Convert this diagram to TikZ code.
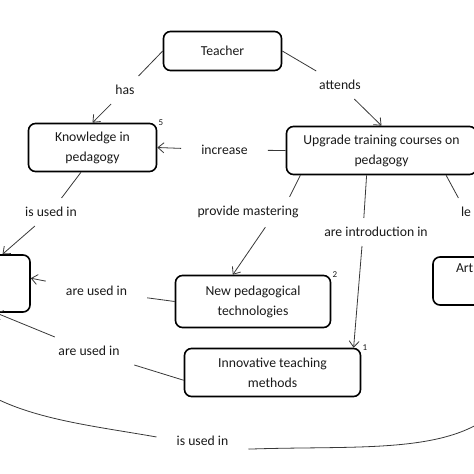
\documentclass[tikz,border=0pt]{standalone}
\usepackage{fontspec}
\setmainfont{Carlito}
\definecolor{line_c}{rgb}{
	0.22, 0.22, 0.22
	}
\definecolor{text_c}{rgb}{
	0.1, 0.1, 0.1
	}
\usetikzlibrary{arrows.meta,
                calc,
                positioning}

\begin{document}
\begin{tikzpicture}[
			x=1pt, y=-1pt,
			font=\fontsize{13.7}{20}\selectfont,
			text=text_c,
			concept/.style = {draw=black, line width=1.6pt, rounded corners=7pt, align=center},
			link/.style = {inner xsep=20pt, inner ysep=9pt},
			num/.style = {font=\fontsize{9}{9}\selectfont, inner sep=1pt, anchor=west},
			every edge/.style = {draw=line_c, line width=0.8pt},
			>={Straight Barb[length=6pt,width=10pt]},
			->,
			]
			\useasboundingbox (0,0) rectangle (474,474);
			\clip (0,0) rectangle (474,474);
			% concepts
			\node[concept, minimum width=118pt, minimum height=39pt] (teacher) at (222.5,51) {Teacher};
			\node[concept, minimum width=128pt, minimum height=48pt, label={[num]north east:5}] (knowledge) at (92.5,147.5) {Knowledge in\\pedagogy};
			\node[concept, minimum width=190pt, minimum height=48pt] (upgrade) at (381.5,150.5) {Upgrade training courses on\\pedagogy};
			\node[concept, minimum width=155pt, minimum height=52pt, label={[num]north east:2}] (newtech) at (253,301.5) {New pedagogical\\technologies};
			\node[concept, minimum width=176pt, minimum height=48pt, label={[num]north east:1}] (innov) at (272.5,372.5) {Innovative teaching\\methods};
			\node[concept, minimum width=200pt, minimum height=57pt] (target) at (-70,283.5) {};
			\node[concept, text width=150pt, inner xsep=23pt, minimum height=48pt, align=left] (art) at (531,281) {Art\\\strut};
			% links
			\node[link] (has) at (125,90) {has};
			\node[link] (attends) at (340,85) {attends};
			\node[link] (increase) at (224.5,150) {increase};
			\node[link] (isused1) at (51,212) {is used in};
			\node[link] (provide) at (248,212) {provide mastering};
			\node[link] (intro) at (376,232) {are introduction in};
			\node[link] (le) at (466,212) {le};
			\node[link] (areused1) at (96.5,291) {are used in};
			\node[link] (areused2) at (89,351) {are used in};
			\node[link] (isused2) at (202.5,441) {is used in};
			% edges
			\path[]
			(teacher.west) edge[-] (has)
			(has) edge (knowledge.north)
			(teacher.east) edge[-] (attends)
			(attends) edge (upgrade.north)
			(upgrade.west) edge[-] (increase)
			(increase) edge (knowledge.east)
			(knowledge.-115) edge[-] (isused1)
			(isused1) edge (target.22)
			(upgrade.197) edge[-] (provide.20)
			(provide.-41) edge (newtech.127)
			(upgrade.-121) edge[-] (intro.131)
			(intro.-135) edge (innov.17)
			(upgrade.-21) edge[-] (le)
			(newtech.west) edge[-] (areused1)
			(areused1) edge (target.3)
			(innov.185) edge[-] (areused2)
			(areused2) edge (target.-24)
			(isused2.-10) edge[-, out=2, in=-90, looseness=1.3] (art.south)
			(isused2.175) edge[out=170, in=-80] (target.south)
			;
		\end{tikzpicture}
\end{document}
